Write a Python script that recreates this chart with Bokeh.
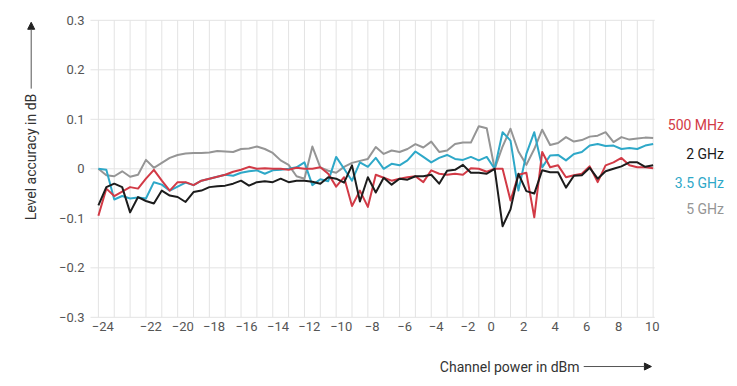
from bokeh.plotting import figure
from bokeh.models import Range1d, FixedTicker, Label, Arrow, NormalHead
from bokeh.embed import file_html
from bokeh.resources import INLINE

# ---- data -------------------------------------------------------------
power_dbm = [
    -25.0, -24.5, -24.0, -23.5, -23.0, -22.5, -22.0, -21.5, -21.0, -20.5,
    -20.0, -19.5, -19.0, -18.5, -18.0, -17.5, -17.0, -16.5, -16.0, -15.5,
    -15.0, -14.5, -14.0, -13.5, -13.0, -12.5, -12.0, -11.5, -11.0, -10.5,
    -10.0, -9.5, -9.0, -8.5, -8.0, -7.5, -7.0, -6.5, -6.0, -5.5,
    -5.0, -4.5, -4.0, -3.5, -3.0, -2.5, -2.0, -1.5, -1.0, -0.5,
    0.0, 0.5, 1.0, 1.5, 2.0, 2.5, 3.0, 3.5, 4.0, 4.5,
    5.0, 5.5, 6.0, 6.5, 7.0, 7.5, 8.0, 8.5, 9.0, 9.5,
    10.0,
]

acc_500mhz = [
    -0.095, -0.040, -0.055, -0.046, -0.037, -0.040, -0.020, -0.002, -0.024, -0.044,
    -0.027, -0.027, -0.033, -0.024, -0.020, -0.016, -0.012, -0.006, -0.002, 0.004,
    0.000, 0.001, 0.000, 0.000, -0.002, 0.002, 0.000, 0.000, 0.003, -0.010,
    -0.036, -0.017, -0.075, -0.044, -0.077, -0.012, -0.018, -0.024, -0.020, -0.017,
    -0.015, -0.027, -0.003, -0.010, -0.012, -0.010, -0.012, 0.001, 0.000, -0.006,
    0.000, 0.000, -0.064, -0.012, -0.008, -0.098, 0.034, 0.003, 0.007, -0.017,
    -0.013, -0.010, 0.005, -0.027, 0.007, 0.013, 0.022, 0.007, 0.003, 0.003,
    0.001,
]

acc_2ghz = [
    -0.074, -0.037, -0.030, -0.037, -0.088, -0.057, -0.065, -0.070, -0.044, -0.054,
    -0.057, -0.067, -0.047, -0.044, -0.037, -0.035, -0.034, -0.030, -0.024, -0.034,
    -0.027, -0.025, -0.027, -0.020, -0.027, -0.024, -0.024, -0.026, -0.030, -0.017,
    -0.020, -0.028, 0.007, -0.066, -0.017, -0.048, -0.018, -0.032, -0.020, -0.022,
    -0.015, -0.015, -0.012, -0.030, -0.004, -0.002, 0.008, -0.008, -0.008, -0.010,
    0.000, -0.116, -0.082, -0.010, -0.045, -0.050, -0.003, -0.007, -0.007, -0.038,
    -0.014, -0.013, 0.002, -0.020, -0.005, 0.000, 0.005, 0.013, 0.013, 0.004,
    0.007,
]

acc_3p5ghz = [
    0.000, -0.002, -0.062, -0.055, -0.060, -0.058, -0.060, -0.027, -0.032, -0.044,
    -0.036, -0.028, -0.033, -0.024, -0.020, -0.016, -0.012, -0.014, -0.008, -0.005,
    -0.003, -0.010, -0.003, -0.002, 0.000, 0.003, 0.013, -0.033, -0.021, -0.025,
    0.024, 0.000, -0.024, 0.013, 0.004, 0.022, 0.000, 0.010, 0.007, 0.017,
    0.035, 0.024, 0.013, 0.022, 0.028, 0.020, 0.018, 0.024, 0.017, 0.024,
    0.000, 0.074, 0.057, -0.044, 0.030, 0.074, 0.003, 0.027, 0.028, 0.017,
    0.030, 0.034, 0.047, 0.050, 0.046, 0.047, 0.040, 0.042, 0.040, 0.047,
    0.050,
]

acc_5ghz = [
    0.000, -0.013, -0.015, -0.005, -0.016, -0.012, 0.018, 0.002, 0.012, 0.022,
    0.028, 0.031, 0.032, 0.032, 0.033, 0.036, 0.035, 0.034, 0.040, 0.041,
    0.045, 0.040, 0.032, 0.017, 0.008, -0.015, -0.020, 0.045, 0.003, -0.004,
    -0.008, 0.004, 0.012, 0.016, 0.020, 0.044, 0.030, 0.037, 0.034, 0.040,
    0.050, 0.043, 0.055, 0.034, 0.037, 0.050, 0.053, 0.053, 0.086, 0.082,
    0.000, 0.045, 0.081, 0.035, 0.008, 0.040, 0.079, 0.048, 0.052, 0.064,
    0.055, 0.058, 0.065, 0.067, 0.074, 0.054, 0.064, 0.059, 0.061, 0.063,
    0.062,
]

series_names = ["500 MHz", "2 GHz", "3.5 GHz", "5 GHz"]

x_tick_labels = ["\u221224", "\u221222", "\u221220", "\u221218", "\u221216", "\u221214",
                 "\u221212", "\u221210", "\u22128", "\u22126", "\u22124", "\u22122",
                 "0", "2", "4", "6", "8", "10"]
# where the labels sit on the (uniform) grid of the original chart
x_tick_pos = [-24.72, -21.69, -19.68, -17.70, -15.66, -13.66, -11.69, -9.68,
              -7.73, -5.68, -3.69, -1.69, -0.22, 1.83, 3.81, 5.81, 7.83, 9.95]
x_grid = list(range(-25, 11))

y_ticks = [-0.3, -0.2, -0.1, 0.0, 0.1, 0.2, 0.3]
y_tick_labels = ["\u22120.3", "\u22120.2", "\u22120.1", "0", "0.1", "0.2", "0.3"]

# plotting area of the chart (data units)
X_LO, X_HI = -25.5, 10.1
Y_LO, Y_HI = -0.3, 0.3

# ---- styling ----------------------------------------------------------
FONT = "Roboto"
C_RED = "#d23a46"
C_BLACK = "#1c1c1c"
C_CYAN = "#2ea8c8"
C_GRAY = "#959595"
C_GRID = "#e3e3e3"

p = figure(width=728, height=378, output_backend="svg", toolbar_location=None,
           title=None,
           x_range=Range1d(-31.177, 14.754), y_range=Range1d(-0.4236, 0.3400),
           min_border_left=0, min_border_right=0, min_border_top=0,
           min_border_bottom=0)
p.outline_line_color = None
p.background_fill_color = "white"
p.border_fill_color = "white"
p.xgrid.grid_line_color = None
p.ygrid.grid_line_color = None

for ax in (p.xaxis, p.yaxis):
    ax.axis_line_color = None
    ax.major_tick_line_color = None
    ax.minor_tick_line_color = None
    ax.major_tick_out = 0
    ax.major_tick_in = 0
    ax.minor_tick_out = 0
    ax.minor_tick_in = 0
    ax.major_label_text_font = FONT
    ax.major_label_text_font_size = "13px"
    ax.major_label_text_color = "#555555"

p.xaxis.fixed_location = Y_LO
p.yaxis.fixed_location = X_LO
p.xaxis.major_label_standoff = 5
p.yaxis.major_label_standoff = 6

p.xaxis.ticker = FixedTicker(ticks=x_tick_pos)
p.xaxis.major_label_overrides = {t: l for t, l in zip(x_tick_pos, x_tick_labels)}
p.yaxis.ticker = FixedTicker(ticks=y_ticks)
p.yaxis.major_label_overrides = {t: l for t, l in zip(y_ticks, y_tick_labels)}

# grid lines, limited to the chart area
p.segment(x0=x_grid, y0=[Y_LO] * len(x_grid), x1=x_grid, y1=[Y_HI] * len(x_grid),
          line_color=C_GRID, line_width=1)
p.segment(x0=[X_LO] * len(y_ticks), y0=y_ticks, x1=[X_HI] * len(y_ticks), y1=y_ticks,
          line_color=C_GRID, line_width=1)

series = [
    (acc_5ghz, C_GRAY),
    (acc_3p5ghz, C_CYAN),
    (acc_500mhz, C_RED),
    (acc_2ghz, C_BLACK),
]
for ys, col in series:
    p.line(power_dbm, ys, line_color=col, line_width=2, line_join="round")

# series labels on the right
label_y = [0.0895, 0.0303, -0.0291, -0.0808]
label_col = [C_RED, C_BLACK, C_CYAN, C_GRAY]
for name, yy, col in zip(series_names, label_y, label_col):
    p.add_layout(Label(x=14.47, y=yy, text=name, text_align="right",
                       text_baseline="middle", text_font=FONT,
                       text_font_size="14px", text_color=col))

# axis titles with arrows
p.add_layout(Label(x=-29.24, y=0.0238, text="Level accuracy in dB", angle=90,
                   angle_units="deg", text_align="center", text_baseline="middle",
                   text_font=FONT, text_font_size="14px", text_color="#333333"))
p.add_layout(Arrow(x_start=-29.24, y_start=0.162, x_end=-29.24, y_end=0.296,
                   line_color="#555555", line_width=1,
                   end=NormalHead(size=7, fill_color="#222222", line_color="#222222")))

p.add_layout(Label(x=-3.46, y=-0.3994, text="Channel power in dBm",
                   text_align="left", text_baseline="middle",
                   text_font=FONT, text_font_size="14px", text_color="#333333"))
p.add_layout(Arrow(x_start=5.62, y_start=-0.3994, x_end=9.89, y_end=-0.3994,
                   line_color="#555555", line_width=1,
                   end=NormalHead(size=7, fill_color="#222222", line_color="#222222")))

open("out.html", "w").write(file_html(p, INLINE))
